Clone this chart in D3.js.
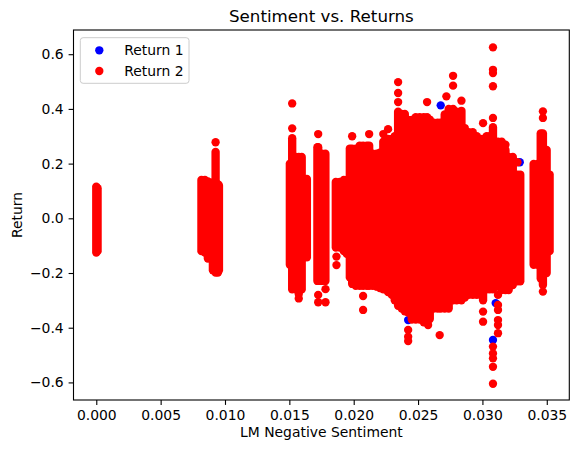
<!DOCTYPE html>
<html>
<head>
<meta charset="utf-8">
<script src="https://cdn.jsdelivr.net/npm/d3@7"></script>
<style>
    body { margin: 0; background: #fff; }
    svg { display: block; font-family: "DejaVu Sans", sans-serif; }
</style>
</head>
<body>
<svg id="chart" width="579" height="453"></svg>
<script>
// Return 2: each sentiment bin holds a dense stack of points, read as its highest and lowest return
const sentimentBins = [
    0.0000, 0.0001,
    0.00817, 0.00844, 0.00867, 0.00890, 0.00906, 0.00927, 0.00945, 0.00953,
    0.01504, 0.01522, 0.01550, 0.01573, 0.01596, 0.01615, 0.01636,
    0.01718, 0.01724, 0.01752, 0.01780,
    0.01861, 0.01892, 0.01923, 0.01946, 0.01970, 0.01988, 0.02016, 0.02047, 0.02073, 0.02102,
    0.02120, 0.02148, 0.02179, 0.02203, 0.02230, 0.02267, 0.02296, 0.02319, 0.02345, 0.02373,
    0.02397, 0.02423, 0.02451, 0.02482, 0.02513, 0.02544, 0.02570, 0.02591, 0.02622, 0.02653,
    0.02676, 0.02707, 0.02738, 0.02772, 0.02800, 0.02837, 0.02863, 0.02894, 0.02925, 0.02956,
    0.02987, 0.03005, 0.03033, 0.03057, 0.03082, 0.03121, 0.03150, 0.03179, 0.03204, 0.03236,
    0.03272, 0.03294,
    0.03398, 0.03429, 0.03453, 0.03470, 0.03499, 0.03522
];
const binHigh = [
    0.116, 0.110,
    0.140, 0.140, 0.135, 0.130, 0.130, 0.243, 0.125, 0.120,
    0.200, 0.293, 0.224, 0.224, 0.224, 0.144, 0.144,
    0.260, 0.260, 0.236, 0.236,
    0.133, 0.133, 0.140, 0.140, 0.255, 0.255, 0.255, 0.266, 0.266, 0.266,
    0.266, 0.236, 0.236, 0.240, 0.280, 0.290, 0.290, 0.300, 0.390, 0.382,
    0.382, 0.360, 0.360, 0.370, 0.370, 0.370, 0.370, 0.361, 0.350, 0.350,
    0.350, 0.380, 0.400, 0.400, 0.390, 0.393, 0.330, 0.315, 0.315, 0.300,
    0.290, 0.290, 0.300, 0.300, 0.333, 0.280, 0.280, 0.250, 0.224, 0.224,
    0.160, 0.160,
    0.199, 0.199, 0.310, 0.310, 0.250, 0.160
];
const binLow = [
    -0.125, -0.120,
    -0.120, -0.125, -0.147, -0.147, -0.190, -0.198, -0.198, -0.190,
    -0.170, -0.260, -0.260, -0.277, -0.260, -0.143, -0.143,
    -0.229, -0.229, -0.229, -0.229,
    -0.107, -0.107, -0.120, -0.130, -0.216, -0.240, -0.247, -0.247, -0.247, -0.247,
    -0.247, -0.247, -0.250, -0.255, -0.260, -0.270, -0.280, -0.300, -0.320, -0.330,
    -0.340, -0.345, -0.370, -0.370, -0.370, -0.380, -0.370, -0.368, -0.330, -0.330,
    -0.330, -0.330, -0.330, -0.300, -0.300, -0.300, -0.290, -0.280, -0.280, -0.280,
    -0.280, -0.300, -0.260, -0.260, -0.260, -0.250, -0.262, -0.262, -0.262, -0.244,
    -0.230, -0.230,
    -0.170, -0.170, -0.220, -0.244, -0.200, -0.120
];

// Return 2: points standing clear of the dense stacks
const outlierSentiment = [
    0.00927, 0.01522, 0.01522, 0.01573, 0.01724, 0.01724, 0.01724, 0.01781, 0.01781, 0.01866,
    0.01866, 0.01988, 0.02073, 0.02073, 0.02120, 0.02230, 0.02267, 0.02345, 0.02345, 0.02345,
    0.02423, 0.02423, 0.02423, 0.02570, 0.02578, 0.02668, 0.02720, 0.02772, 0.02772, 0.02837,
    0.03005, 0.03005, 0.03005, 0.03082, 0.03082, 0.03082, 0.03082, 0.03082, 0.03082, 0.03082,
    0.03082, 0.03082, 0.03082, 0.03121, 0.03121, 0.03121, 0.03121, 0.03121, 0.03121, 0.03179,
    0.03272, 0.03470, 0.03470, 0.03470
];
const outlierReturn = [
    0.278, 0.420, 0.329, -0.293, 0.308, -0.280, -0.307, -0.259, -0.307, -0.140,
    -0.171, 0.300, -0.284, -0.335, 0.308, 0.308, 0.326, 0.425, 0.458, 0.498,
    -0.408, -0.433, -0.449, 0.425, -0.390, -0.427, 0.446, 0.485, 0.521, 0.430,
    0.348, -0.341, -0.378, 0.367, 0.483, 0.531, 0.543, 0.625, -0.469, -0.494,
    -0.512, -0.543, -0.605, -0.280, -0.317, -0.335, -0.372, -0.390, -0.420, 0.269,
    0.205, 0.391, 0.367, -0.268
];

// Return 1: only the points left visible under Return 2
const return1Sentiment = [0.02676, 0.02423, 0.03082, 0.03290, 0.03103, 0.03134];
const return1Values = [0.413, -0.372, -0.445, 0.205, -0.310, -0.240];

const xTicks = [0.000, 0.005, 0.010, 0.015, 0.020, 0.025, 0.030, 0.035];
const yTicks = [-0.6, -0.4, -0.2, 0.0, 0.2, 0.4, 0.6];

const svg = d3.select('#chart');
const plot = { left: 73.5, right: 569.3, top: 30, bottom: 400 };
const dotRadius = 4.17;
const fontSize = 13.9;

const x = d3.scaleLinear().domain([-0.00177, 0.03675]).range([plot.left, plot.right]);
const y = d3.scaleLinear().domain([-0.6643, 0.6885]).range([plot.bottom, plot.top]);

// Return 1 goes first so Return 2 covers it, as in the original plot
svg.append("g")
    .selectAll("circle")
    .data(return1Sentiment)
    .join("circle")
    .attr("cx", d => x(d))
    .attr("cy", (d, i) => y(return1Values[i]))
    .attr("r", dotRadius)
    .attr("fill", "#0000ff");

// Dense stacks: a round-capped stroke as wide as a dot looks like the overlapping markers
svg.append("g")
    .selectAll("line")
    .data(sentimentBins)
    .join("line")
    .attr("x1", d => x(d))
    .attr("x2", d => x(d))
    .attr("y1", (d, i) => y(binHigh[i]))
    .attr("y2", (d, i) => y(binLow[i]))
    .attr("stroke", "#ff0000")
    .attr("stroke-width", dotRadius * 2)
    .attr("stroke-linecap", "round");

svg.append("g")
    .selectAll("circle")
    .data(outlierSentiment)
    .join("circle")
    .attr("cx", d => x(d))
    .attr("cy", (d, i) => y(outlierReturn[i]))
    .attr("r", dotRadius)
    .attr("fill", "#ff0000");

// Axes
const xAxis = svg.append("g")
    .attr("transform", `translate(0,${plot.bottom})`)
    .call(d3.axisBottom(x).tickValues(xTicks).tickFormat(d3.format(".3f")).tickSizeOuter(0).tickSize(4.9).tickPadding(4.9));
const yAxis = svg.append("g")
    .attr("transform", `translate(${plot.left},0)`)
    .call(d3.axisLeft(y).tickValues(yTicks).tickFormat(d3.format(".1f")).tickSizeOuter(0).tickSize(4.9).tickPadding(4.9));

[xAxis, yAxis].forEach(g => {
    g.select(".domain").remove();
    g.selectAll(".tick line").attr("stroke", "#000").attr("stroke-width", 1.1);
    g.selectAll(".tick text")
        .attr("fill", "#000")
        .attr("font-size", `${fontSize}px`)
        .attr("font-family", "DejaVu Sans");
});

svg.append("rect")
    .attr("x", plot.left)
    .attr("y", plot.top)
    .attr("width", plot.right - plot.left)
    .attr("height", plot.bottom - plot.top)
    .attr("fill", "none")
    .attr("stroke", "#000")
    .attr("stroke-width", 1.1);

// Title and axis labels
const midX = (plot.left + plot.right) / 2;
svg.append("text")
    .attr("x", midX)
    .attr("y", 21.7)
    .attr("text-anchor", "middle")
    .attr("font-size", "16.7px")
    .text("Sentiment vs. Returns");

svg.append("text")
    .attr("x", midX)
    .attr("y", 437)
    .attr("text-anchor", "middle")
    .attr("font-size", `${fontSize}px`)
    .text("LM Negative Sentiment");

svg.append("text")
    .attr("transform", `translate(22,${(plot.top + plot.bottom) / 2}) rotate(-90)`)
    .attr("text-anchor", "middle")
    .attr("font-size", `${fontSize}px`)
    .text("Return");

// Legend
const legendItems = [
    { label: "Return 1", color: "#0000ff" },
    { label: "Return 2", color: "#ff0000" }
];
const legend = svg.append("g").attr("transform", "translate(80.3,37.7)");
legend.append("rect")
    .attr("width", 108.7)
    .attr("height", 45.6)
    .attr("rx", 2.8)
    .attr("fill", "#fff")
    .attr("fill-opacity", 0.8)
    .attr("stroke", "#cccccc")
    .attr("stroke-width", 1);

legendItems.forEach((item, i) => {
    const rowY = 12.6 + i * 20.7;
    legend.append("circle")
        .attr("cx", 19)
        .attr("cy", rowY)
        .attr("r", dotRadius)
        .attr("fill", item.color);
    legend.append("text")
        .attr("x", 44)
        .attr("y", rowY + 5)
        .attr("font-size", `${fontSize}px`)
        .text(item.label);
});
</script>
</body>
</html>
